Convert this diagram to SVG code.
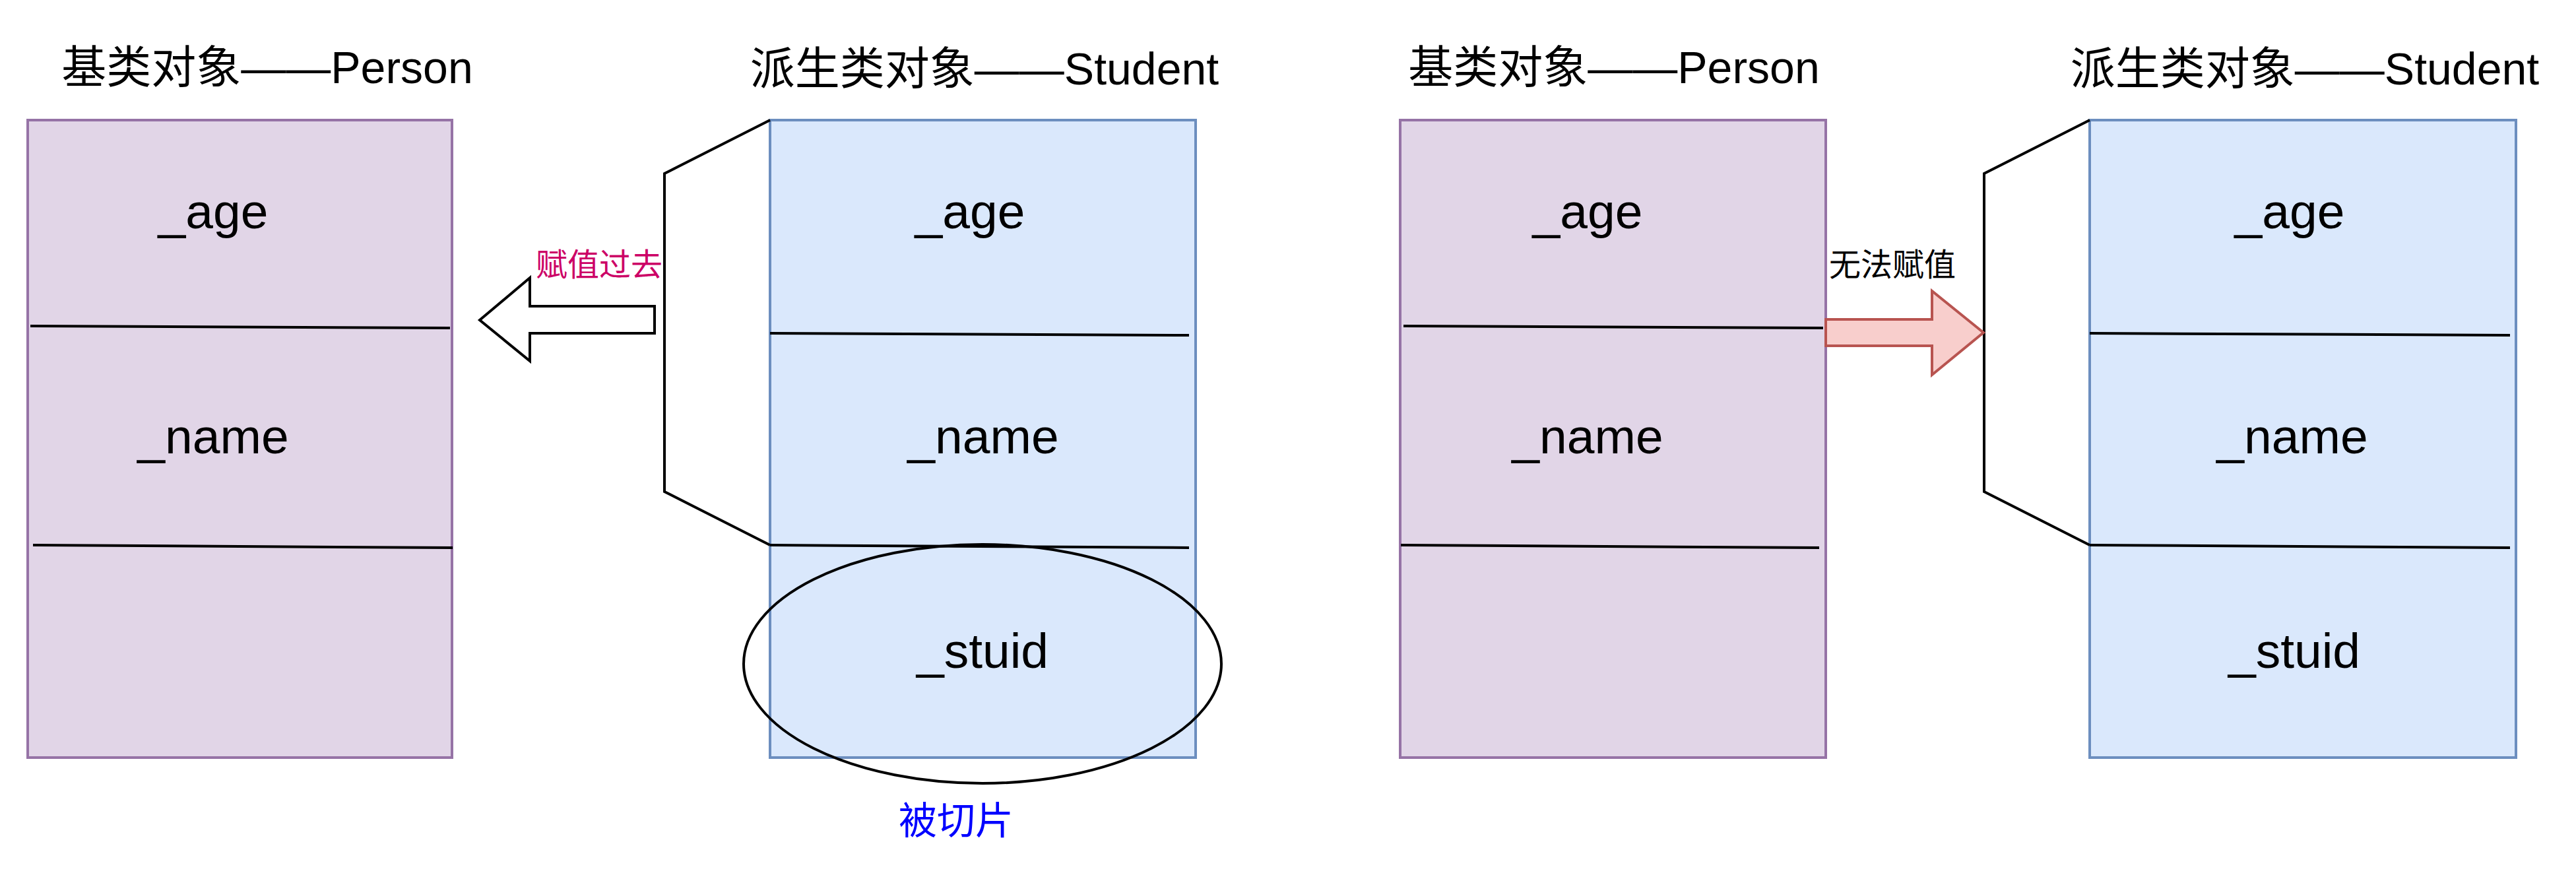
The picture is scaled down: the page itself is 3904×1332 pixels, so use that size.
<svg xmlns="http://www.w3.org/2000/svg" width="3904" height="1332" viewBox="0 0 3904 1332">
<style>
text{font-family:"Liberation Sans","Noto Sans CJK SC",sans-serif;text-anchor:middle;fill:#000}
.t{font-size:68px}.f{font-size:75px}.s{font-size:48px}
.p{fill:#e1d5e7;stroke:#9673a6;stroke-width:4}
.b{fill:#dae8fc;stroke:#6c8ebf;stroke-width:4}
.l{stroke:#000;stroke-width:4;fill:none}
</style>
<rect width="3904" height="1332" fill="#fff"/>
<g id="person1">
<rect class="p" x="42" y="182" width="643" height="966"/>
<text class="t" x="405" y="126">基类对象——Person</text>
<text class="f" x="323" y="346">_age</text>
<text class="f" x="323" y="687">_name</text>
</g>
<g id="student1">
<rect class="b" x="1167" y="182" width="645" height="966"/>
<text class="t" x="1492" y="128">派生类对象——Student</text>
<text class="f" x="1470" y="346">_age</text>
<text class="f" x="1490" y="687">_name</text>
<text class="f" x="1489" y="1012">_stuid</text>
</g>
<g id="person2">
<rect class="p" x="2122" y="182" width="645" height="966"/>
<text class="t" x="2446" y="126">基类对象——Person</text>
<text class="f" x="2406" y="346">_age</text>
<text class="f" x="2406" y="687">_name</text>
</g>
<g id="student2">
<rect class="b" x="3167" y="182" width="646" height="966"/>
<text class="t" x="3493" y="128">派生类对象——Student</text>
<text class="f" x="3470" y="346">_age</text>
<text class="f" x="3474" y="687">_name</text>
<text class="f" x="3477" y="1012">_stuid</text>
</g>
<g id="connectors">
<line class="l" x1="46" y1="494" x2="682" y2="497"/>
<line class="l" x1="50" y1="826" x2="686" y2="830"/>
<line class="l" x1="1167" y1="505" x2="1802" y2="508"/>
<line class="l" x1="1167" y1="826" x2="1802" y2="830"/>
<line class="l" x1="2127" y1="494" x2="2763" y2="497"/>
<line class="l" x1="2123" y1="826" x2="2757" y2="830"/>
<line class="l" x1="3167" y1="505" x2="3804" y2="508"/>
<line class="l" x1="3167" y1="826" x2="3804" y2="830"/>
<polyline class="l" points="1167,182 1007,263 1007,745 1167,826"/>
<polyline class="l" points="3167,182 3007,263 3007,745 3167,826"/>
<ellipse class="l" cx="1489" cy="1006" rx="362" ry="181"/>
<polygon points="727,485 803,421 803,464 992,464 992,505 803,505 803,547" fill="#fff" stroke="#000" stroke-width="4"/>
<polygon points="2767,484 2928,484 2928,441 3006,504 2928,568 2928,524 2767,524" fill="#f8cecc" stroke="#b85450" stroke-width="4"/>
<text class="s" x="908" y="418" style="fill:#cc0066">赋值过去</text>
<text class="s" x="2868" y="418">无法赋值</text>
<text x="1449" y="1264" style="font-size:58px;fill:#0000ff">被切片</text>
</g>
</svg>
